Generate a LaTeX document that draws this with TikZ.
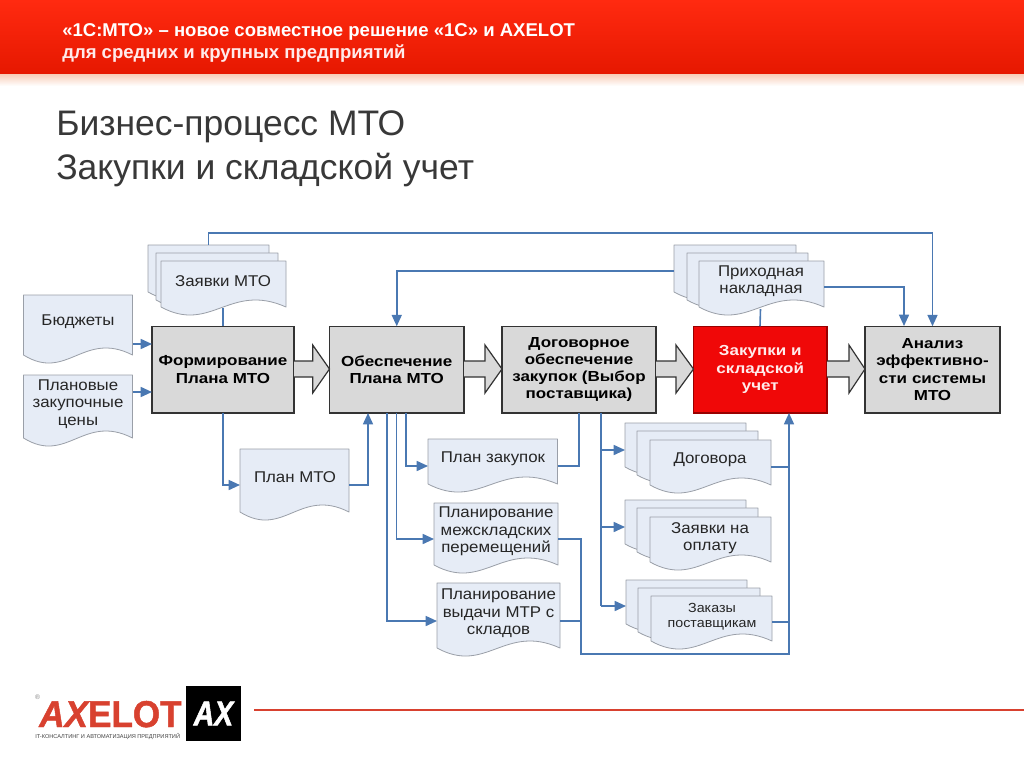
\documentclass[tikz,border=0pt]{standalone}
\usepackage{fontspec}
\setmainfont{Liberation Sans}
\newfontfamily\wideReg[FakeStretch=1.08]{Liberation Sans}
\newfontfamily\wideBold[FakeStretch=1.17]{Liberation Sans Bold}
\newfontfamily\logoUp[FakeStretch=0.94,FakeBold=1.2]{Liberation Sans Bold}
\newfontfamily\logoIt[FakeStretch=0.94,FakeBold=1.2]{Liberation Sans Bold Italic}
\newfontfamily\squareIt[FakeStretch=0.82,FakeBold=1.5]{Liberation Sans Bold Italic}
\usetikzlibrary{arrows.meta}
\definecolor{conn}{HTML}{4A78B2}
\definecolor{docfill}{HTML}{E6ECF6}
\definecolor{docline}{HTML}{9A9FA8}
\definecolor{boxfill}{HTML}{D9D9D9}
\definecolor{boxline}{HTML}{333333}
\definecolor{redbox}{HTML}{F00808}
\definecolor{inktext}{HTML}{262626}
\definecolor{axred}{HTML}{D8412F}
\definecolor{headtop}{HTML}{FF2A10}
\definecolor{headmid}{HTML}{F51A00}
\definecolor{headlow}{HTML}{E61800}
\definecolor{peach}{HTML}{F8CDB8}
\tikzset{
  x=0.75pt,y=-0.75pt,
  wire/.style={draw=conn,line width=1.2pt},
  wirearrow/.style={wire,-{Triangle[length=8.5pt,width=7.5pt]}},
  docpaper/.style={fill=docfill,draw=docline,line width=0.6pt,line join=round},
  docframe/.style={inner sep=0pt,outer sep=0pt,draw=none},
  doctext/.style={inner sep=0pt,align=center,text=inktext,font=\wideReg\fontsize{11.7}{13}\selectfont},
  procbox/.style={draw=boxline,fill=boxfill,line width=1.1pt,inner sep=0pt,outer sep=0pt,align=center,text=black,font=\wideBold\fontsize{10.9}{12.9}\selectfont},
  redproc/.style={procbox,fill=redbox,draw=red!60!black,text=white!92!red},
  bigarrow/.style={draw=boxline,fill=boxfill,line width=0.9pt,line join=miter},
}
% paper sheet with a wavy bottom edge: x0,y0,x1,yb
\newcommand{\sheet}[4]{%
  \pgfmathsetmacro{\shw}{#3-#1}%
  \pgfmathsetmacro{\sha}{#1+0.40*\shw}%
  \pgfmathsetmacro{\shb}{#1+0.55*\shw}%
  \pgfmathsetmacro{\shc}{#4+27}%
  \pgfmathsetmacro{\shd}{#4-25}%
  \path[docpaper] (#1,#2) -- (#3,#2) -- (#3,#4) .. controls (\shb,\shd) and (\sha,\shc) .. (#1,#4) -- cycle;%
}
% named frame for a sheet: name,x0,y0,x1,yb
\newcommand{\sheetframe}[5]{%
  \pgfmathsetmacro{\shw}{(#4-#2)*0.75}%
  \pgfmathsetmacro{\shh}{(#5-#3)*0.75}%
  \node[docframe,minimum width=\shw pt,minimum height=\shh pt] (#1) at ({(#2+#4)/2},{(#3+#5)/2}) {};%
}
% process box: style,name,x0,x1,text
\newcommand{\proc}[5]{%
  \pgfmathsetmacro{\shw}{(#4-#3)*0.75}%
  \node[#1,minimum width=\shw pt,minimum height=64.9pt,text width=\shw pt] (#2) at ({(#3+#4)/2},369.5) {#5};%
}
% block arrow: from,to,headx
\newcommand{\blockarrow}[3]{%
  \path[bigarrow] (#1.east |- 0,361) -- (#3,361) -- (#3,345) -- (#2.west |- 0,369) -- (#3,393) -- (#3,377) -- (#1.east |- 0,377);%
}
\begin{document}
\begin{tikzpicture}
\useasboundingbox (0,0) rectangle (1024,768);
\fill[white] (0,0) rectangle (1024,768);
% header
\shade[top color=headtop,middle color=headmid,bottom color=headlow] (0,0) rectangle (1024,74);
\shade[top color=peach,bottom color=white] (0,74) rectangle (1024,86);
\node[anchor=base west,inner sep=0pt,text=white,font=\bfseries\fontsize{13.9}{15}\selectfont] (head1) at (62,36) {«1С:МТО» – новое совместное решение «1С» и AXELOT};
\node[anchor=base west,inner sep=0pt,text=white!92!red,font=\bfseries\fontsize{13.9}{15}\selectfont] (head2) at (62,58) {для средних и крупных предприятий};
\node[anchor=base west,inner sep=0pt,text=black!78,font=\fontsize{26.6}{28}\selectfont] (title1) at (56,135) {Бизнес-процесс МТО};
\node[anchor=base west,inner sep=0pt,text=black!78,font=\fontsize{26.6}{28}\selectfont] (title2) at (56,179) {Закупки и складской учет};

% documents
\sheet{23.5}{295}{132.5}{355}
\sheetframe{bud}{23.5}{295}{132.5}{355}
\node[doctext] (budt) at (78,322) {Бюджеты};
\sheet{23.5}{375}{132.5}{438}
\sheetframe{pri}{23.5}{375}{132.5}{438}
\node[doctext] (prit) at (78,404) {Плановые\\закупочные\\цены};
\sheet{148}{245}{269}{292}
\sheet{156}{253}{278}{300}
\sheet{161}{261}{286}{307}
\sheetframe{zay}{161}{261}{286}{307}
\node[doctext] (zayt) at (223,281) {Заявки МТО};
\sheet{240}{449}{349}{512}
\sheetframe{pmt}{240}{449}{349}{512}
\node[doctext] (pmtt) at (295,477) {План МТО};
\sheet{428}{439}{557.5}{484}
\sheetframe{pza}{428}{439}{557.5}{484}
\node[doctext] (pzat) at (493,459) {План закупок};
\sheet{434}{503}{558}{565}
\sheetframe{mez}{434}{503}{558}{565}
\node[doctext] (mezt) at (496,531.5) {Планирование\\межскладских\\перемещений};
\sheet{437}{583}{560}{648}
\sheetframe{vyd}{437}{583}{560}{648}
\node[doctext] (vydt) at (498.5,613.5) {Планирование\\выдачи МТР с\\складов};
\sheet{625}{423}{746}{467}
\sheet{637}{431}{758}{475}
\sheet{650}{440}{771}{485}
\sheetframe{dog}{650}{440}{771}{485}
\node[doctext] (dogt) at (710,460) {Договора};
\sheet{625}{500}{746}{544}
\sheet{637}{508}{758}{552}
\sheet{650}{517}{771}{562}
\sheetframe{opl}{650}{517}{771}{562}
\node[doctext] (oplt) at (710,538) {Заявки на\\оплату};
\sheet{626}{580}{747}{624}
\sheet{638}{588}{760}{632}
\sheet{651}{596}{772}{641}
\sheetframe{zak}{651}{596}{772}{641}
\node[doctext,font=\wideReg\fontsize{9.9}{10.8}\selectfont] (zakt) at (712,616.5) {Заказы\\поставщикам};
\sheet{674}{245}{796}{292}
\sheet{687}{253}{808}{300}
\sheet{699}{261}{824}{307}
\sheetframe{pnk}{699}{261}{824}{307}
\node[doctext] (pnkt) at (761,281.5) {Приходная\\накладная};

% process boxes
\proc{procbox}{fp}{152}{294}{Формирование\\Плана МТО}
\proc{procbox}{op}{329.5}{464}{Обеспечение\\Плана МТО}
\proc{procbox}{dz}{502}{656}{Договорное\\обеспечение\\закупок (Выбор\\поставщика)}
\proc{redproc}{zu}{693.5}{827}{Закупки и\\складской\\учет}
\proc{procbox}{an}{865}{1000}{Анализ\\эффективно-\\сти системы\\МТО}

% block arrows
\blockarrow{fp}{op}{312.7}
\blockarrow{op}{dz}{485}
\blockarrow{dz}{zu}{676}
\blockarrow{zu}{an}{849}

% connectors
\coordinate (topl) at (208.5,245);
\coordinate (pback) at (674,271);
\draw[wirearrow] (topl) -- (208.5,233) -| (an.north);
\draw[wirearrow] (pback) -| (op.north);
\draw[wire] (223,308) -- (fp.north -| 223,0);
\draw[wire] (760.5,309) -- (zu.north -| 760,0);
\draw[wirearrow] (pnk.east |- 0,287) -| (904,326);
\draw[wirearrow] (bud.east |- 0,344) -- (fp.west |- 0,344);
\draw[wirearrow] (pri.east |- 0,392) -- (fp.west |- 0,392);
\draw[wirearrow] (fp.south) |- (pmt.west |- 0,485);
\draw[wirearrow] (pmt.east |- 0,485) -| (368,413);
\draw[wirearrow] (406,413) |- (pza.west |- 0,466);
\draw[wirearrow] (396.5,413) |- (mez.west |- 0,539);
\draw[wirearrow] (387,413) |- (vyd.west |- 0,621);
\draw[wire] (pza.east |- 0,466) -| (579,413);
\draw[wire] (601,413) -- (601,606);
\draw[wirearrow] (601,606) -- (626,606);
\draw[wirearrow] (601,450) -- (625,450);
\draw[wirearrow] (601,527) -- (625,527);
\draw[wirearrow] (mez.east |- 0,539) -- (581,539) -- (581,654) -- (789,654) -- (789,413);
\draw[wire] (vyd.east |- 0,621) -- (581,621);
\draw[wire] (dog.east |- 0,467) -- (789,467);
\draw[wire] (zak.east |- 0,622) -- (789,622);

% logo
\node[anchor=base west,inner sep=0pt,text=axred,font=\fontsize{28}{30}\selectfont] (axlogo) at (39,727) {{\logoIt AX}{\logoUp ELOT}};
\node[anchor=base west,inner sep=0pt,text=black!75,font=\fontsize{4.2}{5}\selectfont] (axtag) at (35,738) {IT-КОНСАЛТИНГ И АВТОМАТИЗАЦИЯ ПРЕДПРИЯТИЙ};
\node[anchor=center,inner sep=0pt,text=gray,font=\fontsize{5}{6}\selectfont] (axreg) at (37.5,697) {®};
\node[fill=black,minimum size=41.25pt,inner sep=0pt,outer sep=0pt,text=white,font=\squareIt\fontsize{26}{28}\selectfont] (axsq) at (213.5,713.5) {AX};
\coordinate (lineend) at (1024,710);
\draw[draw=axred,line width=1.9pt] (axsq.east |- 0,710) ++(13,0) -- (lineend);
\end{tikzpicture}
\end{document}
